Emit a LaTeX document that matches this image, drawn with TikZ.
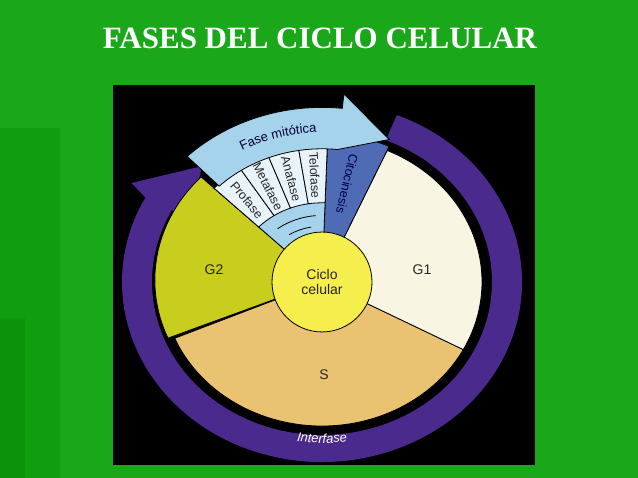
\documentclass[tikz,border=0pt]{standalone}
\usepackage{fontspec}
\setmainfont{Liberation Serif}
\newfontfamily\lsans{Liberation Sans}
\usetikzlibrary{decorations.text}
\definecolor{bggreen}{HTML}{1AA81A}
\definecolor{ringc}{HTML}{4B2A8E}
\definecolor{gtwo}{HTML}{C9CD1E}
\definecolor{sph}{HTML}{E9C272}
\definecolor{gone}{HTML}{F8F6E2}
\definecolor{centc}{HTML}{F6EE4C}
\definecolor{bandc}{HTML}{A6D3EC}
\definecolor{citoc}{HTML}{4F6BB5}
\definecolor{subc}{HTML}{E8F3FA}
\begin{document}
\begin{tikzpicture}[x=1pt,y=1pt,
  sect/.style={draw=black,line width=0.8pt},
  lab/.style={font=\lsans\fontsize{14}{15}\selectfont,text=black!85},
  sub/.style={font=\lsans\fontsize{12.5}{13}\selectfont,text=black!85}]
\useasboundingbox (0,0) rectangle (638,478);
\fill[bggreen] (0,0) rectangle (638,478);
\fill[green!55!black,opacity=0.35] (0,0) rectangle (60,350);
\fill[green!45!black,opacity=0.25] (0,0) rectangle (25,160);
\node[text=white,font=\bfseries\fontsize{31}{34}\selectfont] (title) at (320,440) {FASES DEL CICLO CELULAR};
\fill[black] (113,13) rectangle (535,393);
\begin{scope}[shift={(322,196)},yscale=0.9]
 \fill[ringc] (68:200) arc[start angle=68,end angle=-208,radius=200]
   -- (150:220) -- (133:176) -- (154:148) -- (-208:170)
   arc[start angle=-208,end angle=68,radius=170] -- cycle;
 \fill[sph,sect] (0,0) -- (203:160) arc[start angle=203,end angle=332,radius=160] -- cycle;
 \fill[gone,sect] (0,0) -- (-28:160) arc[start angle=-28,end angle=66,radius=160] -- cycle;
 \fill[gtwo,sect] (0,0) -- (136:168) arc[start angle=136,end angle=203,radius=165] -- cycle;
 \fill[citoc,sect] (0,0) -- (66:165) arc[start angle=66,end angle=88,radius=165] -- cycle;
 \fill[bandc,sect] (0,0) -- (136:150) arc[start angle=136,end angle=88,radius=150] -- cycle;
 \foreach \a/\b in {136/123,123/111,111/99,99/88}
   \fill[subc,sect] (\a:88) -- (\a:150) arc[start angle=\a,end angle=\b,radius=150] -- (\b:88) arc[start angle=\b,end angle=\a,radius=88] -- cycle;
 \draw[line width=0.8pt] (122:62) arc[start angle=122,end angle=100,radius=62];
 \draw[line width=0.8pt] (127:74) arc[start angle=127,end angle=95,radius=74];
 \fill[bandc,sect] (134:148) -- (134:194) arc[start angle=134,end angle=84,radius=194]
   -- (84:210) -- (67:172) -- (84:148) arc[start angle=84,end angle=134,radius=148] -- cycle;
 \path[decorate,decoration={text along path,text align=center,
   text={|\lsans\fontsize{13}{14}\selectfont\color{black!80!blue}|Fase mitótica}}]
   (131:166) arc[start angle=131,end angle=80,radius=166];
 \path[decorate,decoration={text along path,text align=center,
   text={|\lsans\itshape\fontsize{13}{14}\selectfont\color{white}|Interfase}}]
   (250:179) arc[start angle=250,end angle=290,radius=179];
 \node[sub,rotate=-50] (pro) at (129.5:118) {Profase};
 \node[sub,rotate=-63] (meta) at (117:119) {Metafase};
 \node[sub,rotate=-75] (ana) at (105:119) {Anafase};
 \node[sub,rotate=-87] (telo) at (93.5:119) {Telofase};
 \node[sub,rotate=-103,text=black!70!blue] (cito) at (77:112) {Citocinesis};
 \fill[centc,sect] (0,0) circle[x radius=50,y radius=55.5];
\end{scope}
\node[lab,align=center] (ciclo) at (322,196) {Ciclo\\celular};
\node[lab] (g2) at (214,208) {G2};
\node[lab] (g1) at (422,208) {G1};
\node[lab] (s) at (324,103) {S};
\end{tikzpicture}
\end{document}
